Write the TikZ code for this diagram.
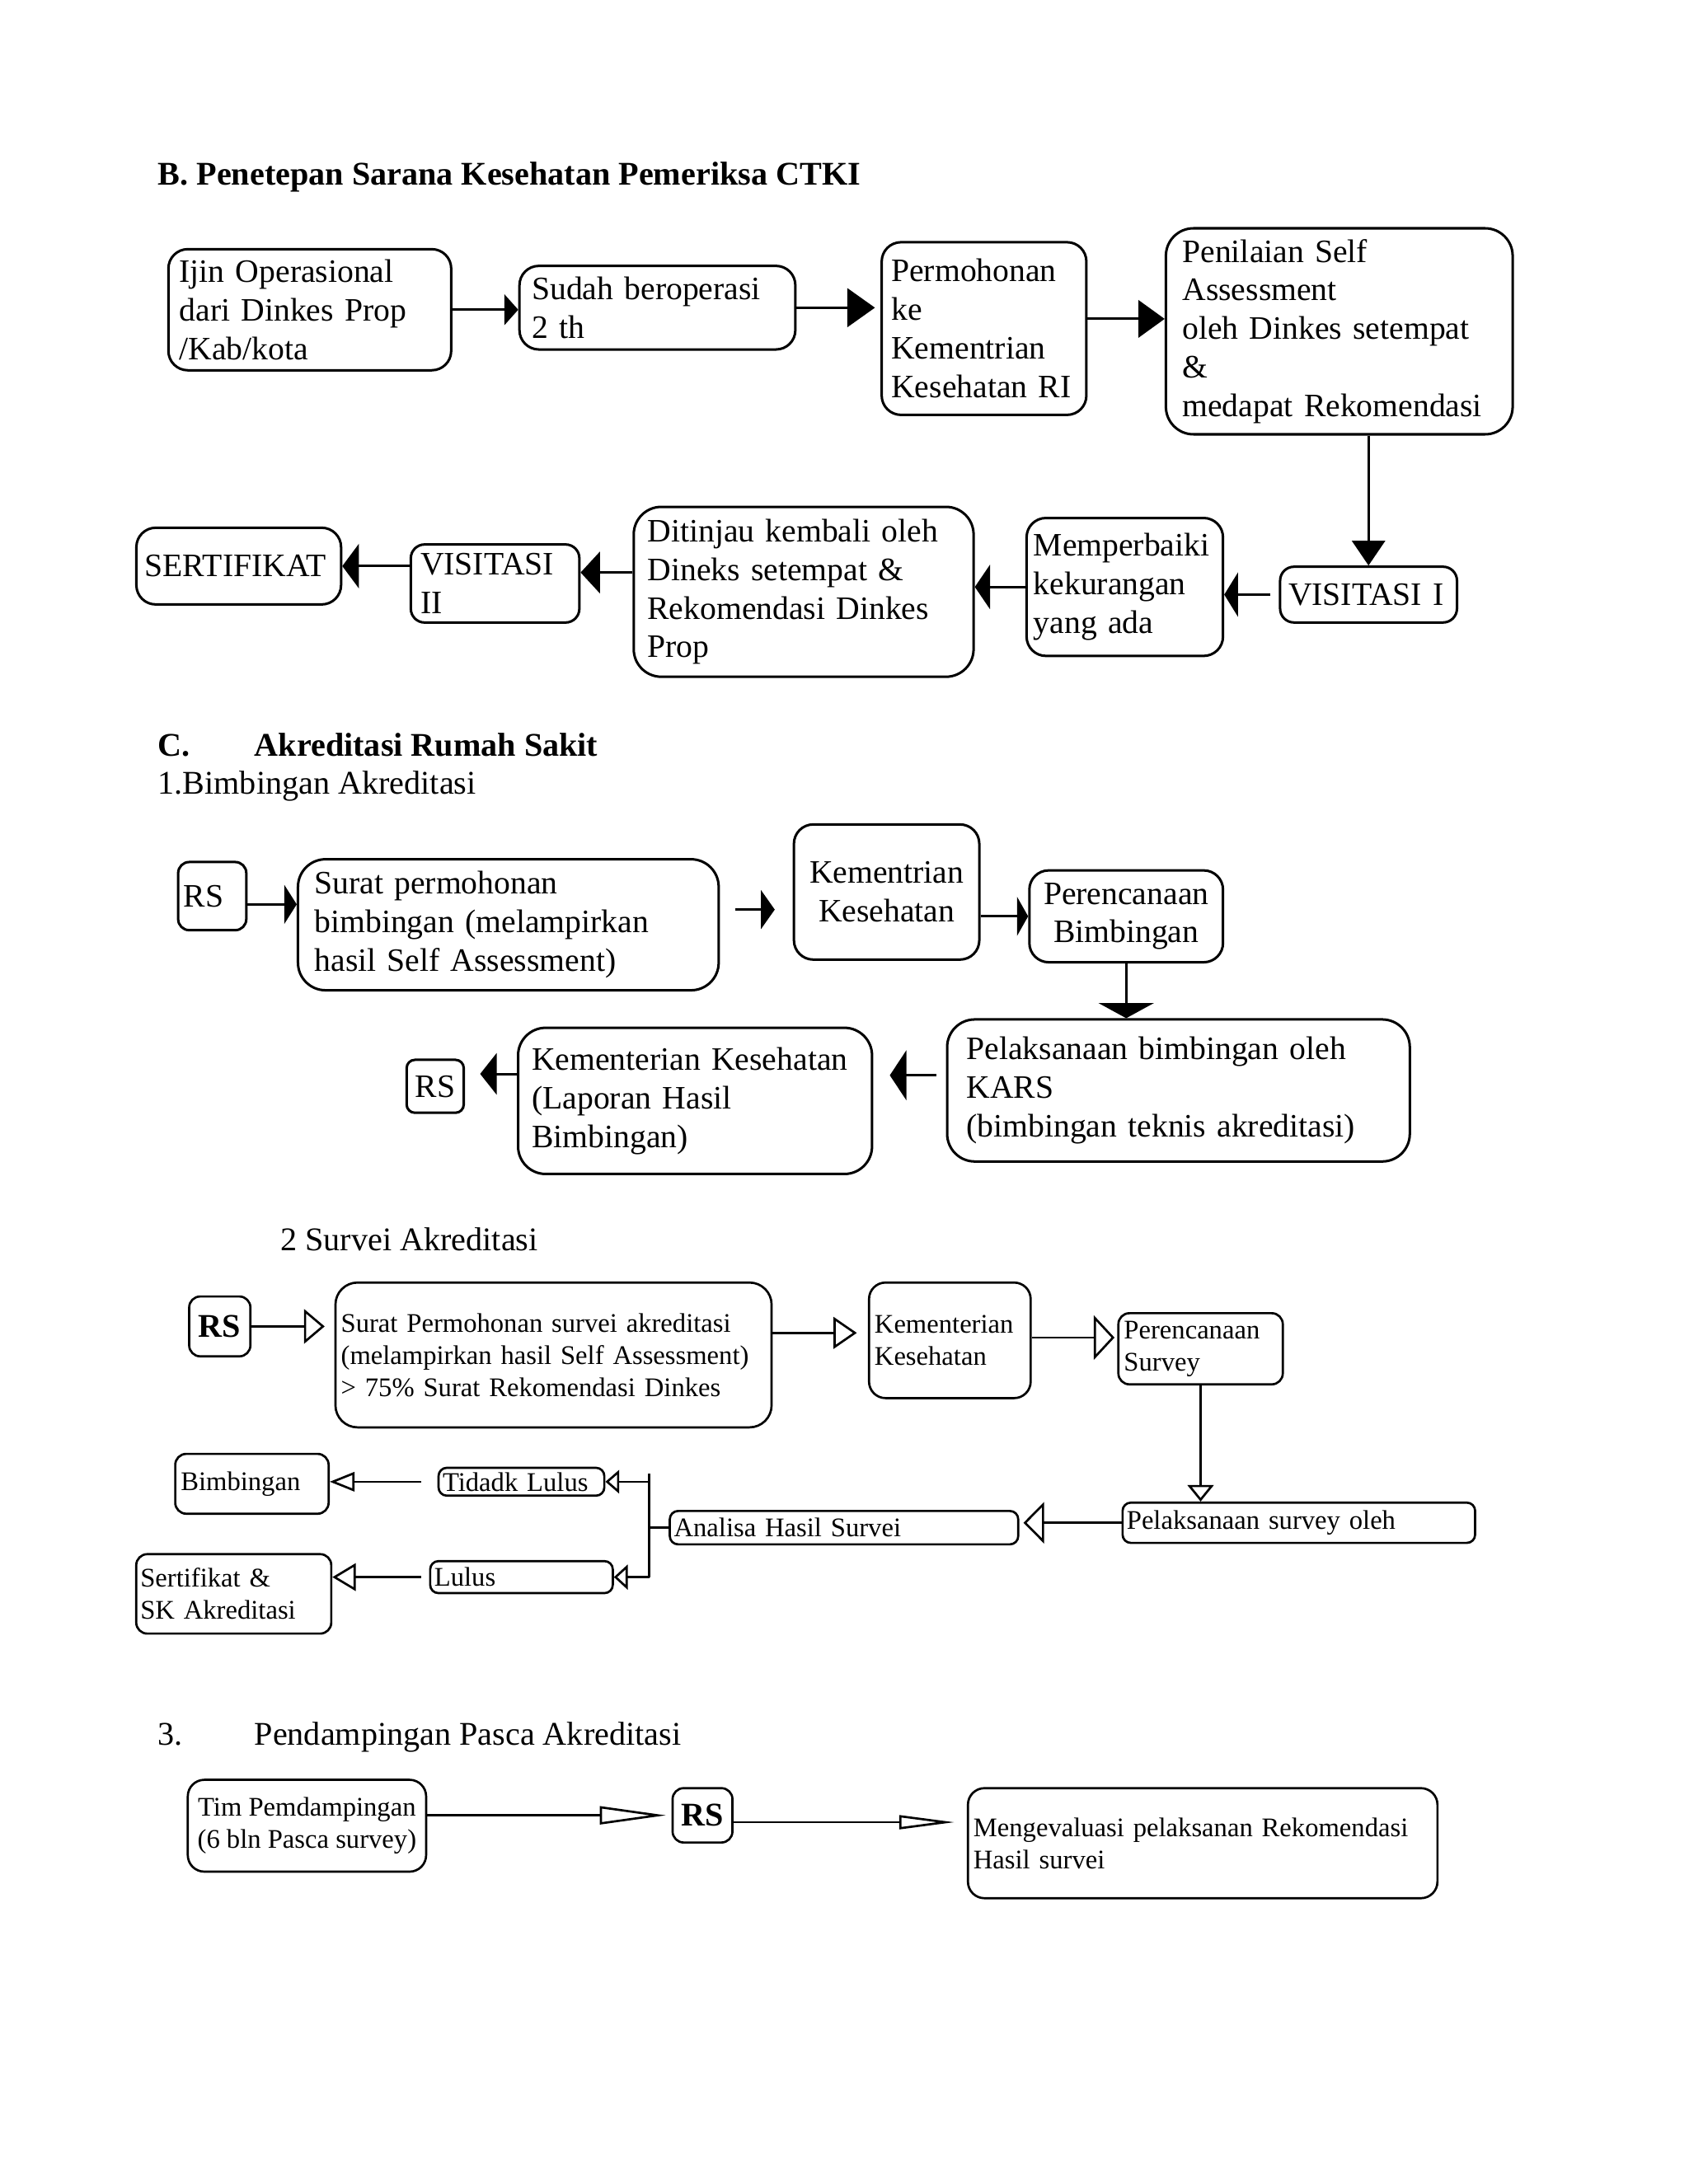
\documentclass[tikz,border=0pt]{standalone}
\usepackage{fontspec}
\setmainfont{Liberation Serif}
\usepackage{tikz}
\usetikzlibrary{
	arrows.meta
}
\tikzset{
	flowbox/.style={draw, anchor=north west, rounded corners=7pt, line width=0.9pt, align=left, inner ysep=1.5pt, font=\fontsize{11.85}{14}\selectfont},
	smallbox/.style={flowbox, rounded corners=4pt, line width=0.8pt, inner ysep=1pt, font=\fontsize{9.75}{11.7}\selectfont},
	header/.style={anchor=base west, inner sep=0pt, font=\fontsize{12}{14}\selectfont},
	solidarrow/.style 2 args={-{Triangle[length=#1, width=#2]}, line width=0.9pt},
	openarrow/.style 2 args={-{Triangle[open, length=#1, width=#2, line width=0.8pt]}, line width=0.8pt}
}
\begin{document}
\begin{tikzpicture}[x=1.01pt, y=-1.01pt]
	\useasboundingbox (0,0) rectangle (606,784);
	% B
	\node[header] (titleb) at (56.5,66.5) {\bfseries B. Penetepan Sarana Kesehatan Pemeriksa CTKI};
	\node[flowbox, inner xsep=4pt, text width=94.5pt, minimum height=43.9pt] (ijin) at (60,89) {Ijin Operasional\\dari Dinkes Prop\\/Kab/kota};
	\node[flowbox, inner xsep=4.5pt, text width=91pt, minimum height=30.3pt] (sudah) at (186,95) {Sudah beroperasi\\2 th};
	\node[flowbox, inner xsep=3.5pt, text width=67.2pt, minimum height=62.6pt] (perm) at (316,86.5) {Permohonan\\ke\\Kementrian\\Kesehatan RI};
	\node[flowbox, rounded corners=10pt, inner xsep=6pt, text width=113.7pt, minimum height=74.7pt] (pen) at (418,81.5) {Penilaian Self\\Assessment\\oleh Dinkes setempat\\\&\\medapat Rekomendasi};
	\node[flowbox, rounded corners=5pt, inner xsep=3pt, text width=58.1pt, minimum height=20.2pt] (vis1) at (459,203) {VISITASI I};
	\node[flowbox, inner xsep=2.5pt, text width=66.2pt, minimum height=50pt] (memp) at (368,185.5) {Memperbaiki\\kekurangan\\yang ada};
	\node[flowbox, rounded corners=10pt, inner xsep=5pt, text width=113.2pt, minimum height=61.6pt] (dit) at (227,181.5) {Ditinjau kembali oleh\\Dineks setempat \&\\Rekomendasi Dinkes\\Prop};
	\node[flowbox, rounded corners=5pt, inner xsep=3.5pt, inner ysep=1pt, text width=54.1pt, minimum height=28.3pt] (vis2) at (147,195) {VISITASI\\II};
	\node[flowbox, inner xsep=3pt, text width=68.2pt, minimum height=27.8pt] (sert) at (48.5,189) {SERTIFIKAT};
	\draw[solidarrow={5pt}{11pt}] (ijin.east) -- (ijin.east -| sudah.west);
	\draw[solidarrow={10pt}{14pt}, shorten >=2pt] (sudah.east) -- (sudah.east -| perm.west);
	\draw[solidarrow={9.5pt}{13.5pt}] ([yshift=3.5pt]perm.east) -- ([yshift=3.5pt]perm.east -| pen.west);
	\draw[solidarrow={9pt}{12pt}] (pen.south -| vis1.north) -- (vis1.north);
	\draw[solidarrow={5pt}{16pt}, shorten <=3pt] (vis1.west) -- (vis1.west -| memp.east);
	\draw[solidarrow={5.5pt}{16pt}] (memp.west) -- (memp.west -| dit.east);
	\draw[solidarrow={7pt}{15pt}] ([yshift=7pt]dit.west) -- ([yshift=7pt]dit.west -| vis2.east);
	\draw[solidarrow={6pt}{16pt}] (sert.east -| vis2.west) -- (sert.east);
	% C 1
	\node[header] (titlec) at (56.5,271.5) {\bfseries\makebox[35pt][l]{C.}Akreditasi Rumah Sakit};
	\node[header] (titlec1) at (56.5,285) {1.Bimbingan Akreditasi};
	\node[flowbox, rounded corners=4pt, inner xsep=2pt, text width=20.7pt, minimum height=24.7pt] (rs1) at (63.5,309) {RS};
	\node[flowbox, rounded corners=10pt, inner xsep=6pt, text width=140.5pt, minimum height=47.5pt] (surat1) at (106.5,308) {Surat permohonan\\bimbingan (melampirkan\\hasil Self Assessment)};
	\node[flowbox, align=center, inner xsep=1pt, minimum width=67.2pt, minimum height=49pt] (kem1) at (284.5,295.5) {Kementrian\\Kesehatan};
	\node[flowbox, align=center, inner xsep=1pt, minimum width=70.2pt, minimum height=33.3pt] (perenc1) at (369,312) {Perencanaan\\Bimbingan};
	\node[flowbox, rounded corners=10pt, inner xsep=7pt, text width=153.7pt, minimum height=51.5pt] (pelaks1) at (339.5,365.5) {Pelaksanaan bimbingan oleh\\KARS\\(bimbingan teknis akreditasi)};
	\node[flowbox, rounded corners=10pt, inner xsep=5pt, text width=118.3pt, minimum height=53pt] (kemkes) at (185.5,368.5) {Kementerian Kesehatan\\(Laporan Hasil\\Bimbingan)};
	\node[flowbox, rounded corners=3pt, align=center, inner xsep=1pt, minimum width=20.7pt, minimum height=19.2pt] (rs1b) at (145.5,380) {RS};
	\draw[solidarrow={4.5pt}{14pt}] ([yshift=-3pt]rs1.east) -- ([yshift=-3pt]rs1.east -| surat1.west);
	\draw[solidarrow={5pt}{14pt}, shorten <=5.5pt, shorten >=6.5pt] ([yshift=5.5pt]surat1.east) -- ([yshift=5.5pt]surat1.east -| kem1.west);
	\draw[solidarrow={4pt}{14pt}] (perenc1.west -| kem1.east) -- (perenc1.west);
	\draw[solidarrow={5.5pt}{20pt}] (perenc1.south) -- (perenc1.south |- pelaks1.north);
	\draw[solidarrow={6pt}{18pt}, shorten <=3.5pt, shorten >=6pt] ([yshift=5.5pt]pelaks1.west) -- ([yshift=5.5pt]pelaks1.west -| kemkes.east);
	\draw[solidarrow={6pt}{15pt}, shorten >=5.5pt] ([yshift=4.5pt]rs1b.east -| kemkes.west) -- ([yshift=4.5pt]rs1b.east);
	% C 2
	\node[header] (titlec2) at (100.5,449) {2 Survei Akreditasi};
	\node[smallbox, align=center, inner xsep=1pt, minimum width=22.2pt, minimum height=21.7pt, font=\fontsize{12}{14}\selectfont\bfseries] (rs2) at (67.5,465) {RS};
	\node[smallbox, rounded corners=8pt, inner xsep=2pt, text width=154.1pt, minimum height=52.5pt] (surat2) at (120,460) {Surat Permohonan survei akreditasi\\(melampirkan hasil Self Assessment)\\> 75\% Surat Rekomendasi Dinkes};
	\node[smallbox, rounded corners=6pt, inner xsep=2pt, text width=54.6pt, minimum height=41.9pt] (kem2) at (311.5,460) {Kementerian\\Kesehatan};
	\node[smallbox, inner xsep=2pt, text width=55.6pt, minimum height=25.8pt] (perenc2) at (401,471) {Perencanaan\\Survey};
	\node[smallbox, rounded corners=3pt, inner xsep=1.5pt, text width=124.8pt, minimum height=14.6pt] (pelaks2) at (402.5,539) {Pelaksanaan survey oleh};
	\node[smallbox, rounded corners=3pt, inner xsep=1.5pt, text width=123.3pt, minimum height=12.1pt] (analisa) at (240,542) {Analisa Hasil Survei};
	\node[smallbox, rounded corners=3pt, inner xsep=1.5pt, text width=57.1pt, minimum height=10.1pt] (tidak) at (157,526.5) {Tidadk Lulus};
	\node[smallbox, rounded corners=3pt, inner xsep=1.5pt, text width=63.2pt, minimum height=11.6pt] (lulus) at (154,560) {Lulus};
	\node[smallbox, inner xsep=2pt, text width=51.6pt, minimum height=21.7pt] (bimb) at (62.5,521.5) {Bimbingan};
	\node[smallbox, inner xsep=1.5pt, text width=67.7pt, minimum height=28.8pt] (sert2) at (48.5,557.5) {Sertifikat \&\\SK Akreditasi};
	\coordinate (split) at (233,548);
	\draw[openarrow={7.5pt}{12.5pt}, shorten >=3.5pt] (rs2.east) -- (rs2.east -| surat2.west);
	\draw[openarrow={8.5pt}{11.5pt}, shorten >=4pt] ([yshift=8pt]surat2.east) -- ([yshift=8pt]surat2.east -| kem2.west);
	\draw[openarrow={7.5pt}{16pt}, shorten >=1pt] ([yshift=1pt]kem2.east) -- ([yshift=1pt]kem2.east -| perenc2.west);
	\draw[openarrow={6pt}{9.5pt}] (perenc2.south) -- (perenc2.south |- pelaks2.north);
	\draw[openarrow={7.5pt}{15pt}, shorten >=1.5pt] (pelaks2.west) -- (pelaks2.west -| analisa.east);
	\draw[line width=0.7pt] (analisa.west) -- (analisa.west -| split);
	\draw[line width=0.7pt] ([yshift=3pt]split |- tidak.east) -- (split |- lulus.east);
	\draw[openarrow={5pt}{8.5pt}] (split |- tidak.east) -- (tidak.east);
	\draw[openarrow={5pt}{9pt}] (split |- lulus.east) -- (lulus.east);
	\draw[openarrow={9pt}{7pt}, shorten <=6pt] (tidak.west) -- (tidak.west -| bimb.east);
	\draw[openarrow={8.5pt}{10pt}, shorten <=3pt] (lulus.west) -- (lulus.west -| sert2.east);
	% C 3
	\node[header] (titlec3) at (56.5,626.5) {\makebox[35pt][l]{3.}Pendampingan Pasca Akreditasi};
	\node[smallbox, rounded corners=6pt, align=center, inner xsep=1pt, minimum width=86.4pt, minimum height=33.3pt] (tim) at (67,638.5) {Tim Pemdampingan\\(6 bln Pasca survey)};
	\node[smallbox, align=center, inner xsep=1pt, minimum width=21.7pt, minimum height=19.7pt, font=\fontsize{12}{14}\selectfont\bfseries] (rs3) at (241,641.5) {RS};
	\node[smallbox, rounded corners=6pt, inner xsep=2pt, text width=166.2pt, minimum height=39.9pt] (meng) at (347,641.5) {Mengevaluasi pelaksanan Rekomendasi\\Hasil survei};
	\draw[openarrow={24pt}{6.5pt}, shorten >=2pt] (rs3.west -| tim.east) -- (rs3.west);
	\draw[openarrow={20pt}{5pt}, shorten >=4.5pt] ([yshift=-2.5pt]rs3.east) -- ([yshift=-2.5pt]rs3.east -| meng.west);
\end{tikzpicture}
\end{document}
